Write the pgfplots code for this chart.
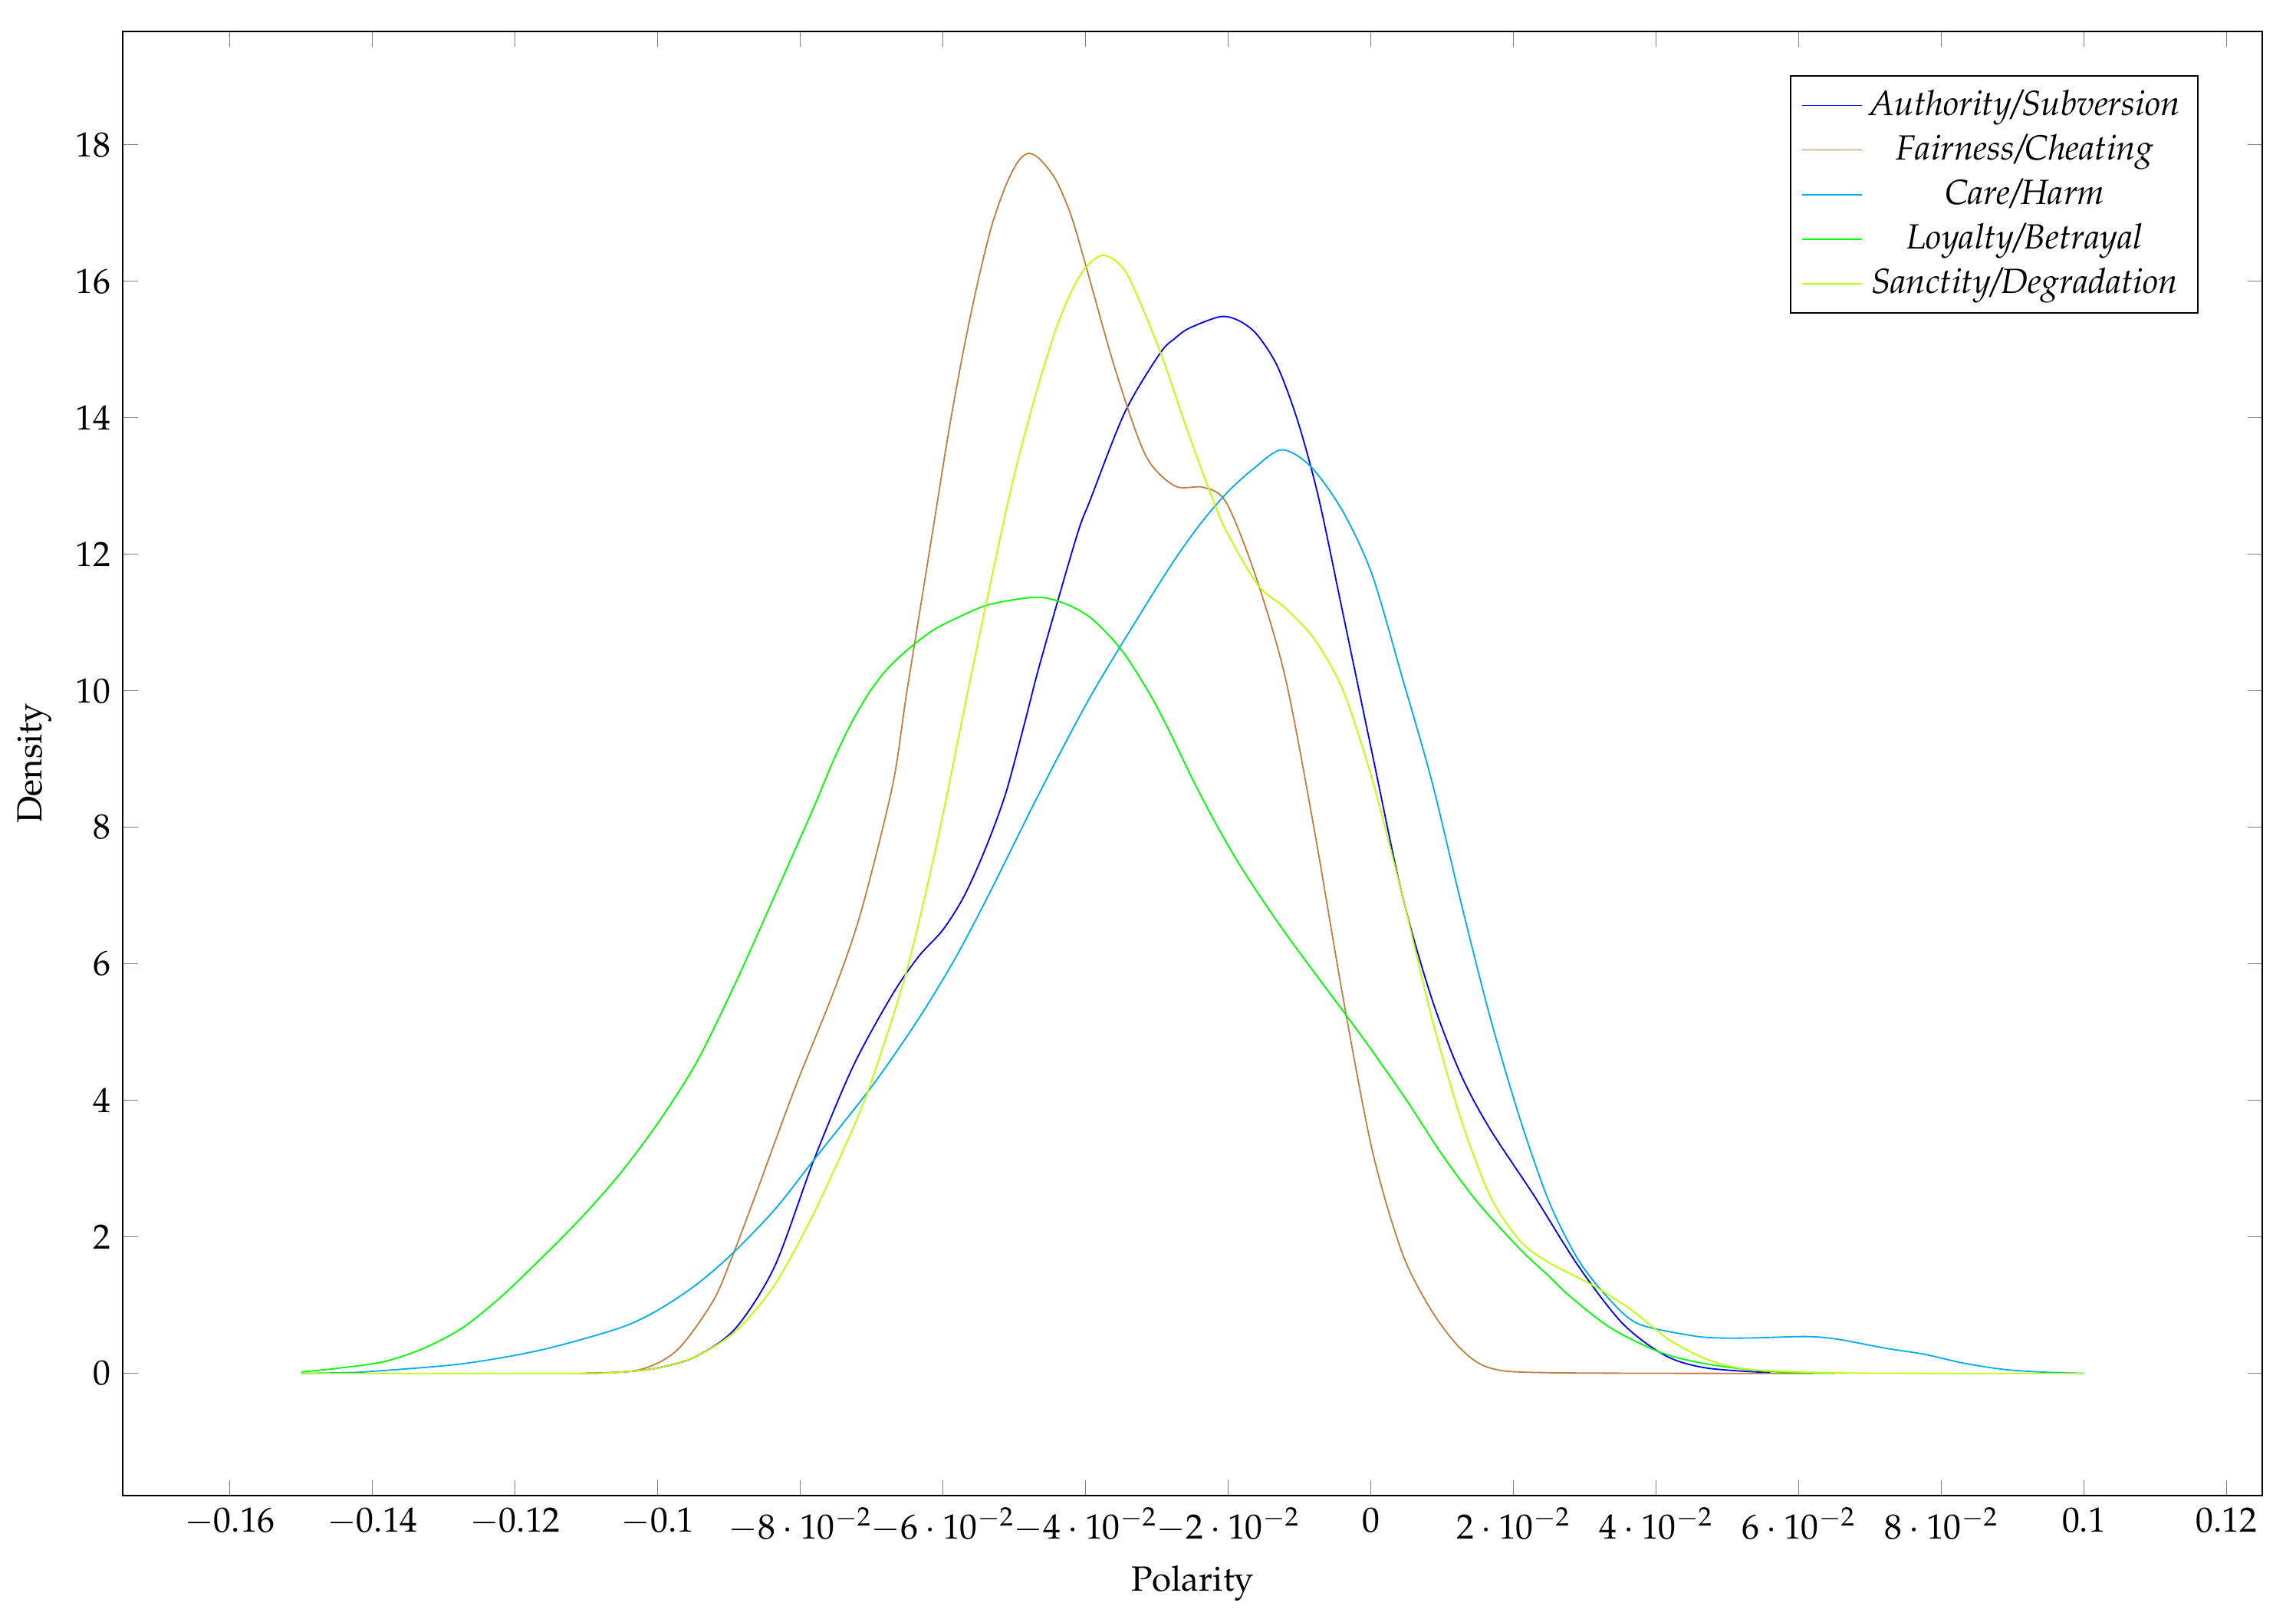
\documentclass[border=0pt]{standalone}
\usepackage[T1]{fontenc}
\usepackage{mathpazo}
\usepackage{pgfplots}
\pgfplotsset{compat=1.18}
\usetikzlibrary{calc}
\definecolor{careblue}{RGB}{0,174,239}
\begin{document}
\begin{tikzpicture}
\begin{axis}[
  name=ax,
  scale only axis,
  width=611pt, height=418pt,
  xlabel={Polarity}, ylabel={Density},
  xtick={-0.16,-0.14,-0.12,-0.1,-0.08,-0.06,-0.04,-0.02,0,0.02,0.04,0.06,0.08,0.1,0.12},
  ytick={0,2,4,6,8,10,12,14,16,18},
  legend cell align=center,
  legend style={at={(0.97,0.97)}, anchor=north east},
]
\addplot[blue, smooth] coordinates {
(-0.110,0.00) (-0.105,0.02) (-0.100,0.08) (-0.0946,0.25) (-0.0891,0.66)
(-0.0836,1.57) (-0.0781,3.13) (-0.0726,4.50) (-0.0671,5.55) (-0.0634,6.11)
(-0.0600,6.5) (-0.057,7.0) (-0.054,7.7) (-0.0512,8.5) (-0.0485,9.55) (-0.0464,10.4)
(-0.0413,12.25) (-0.0393,12.81) (-0.0345,14.08) (-0.0296,14.94) (-0.0275,15.16) (-0.0255,15.31)
(-0.0211,15.48) (-0.0185,15.42) (-0.016,15.22) (-0.0131,14.75) (-0.0102,13.93) (-0.0073,12.81)
(-0.0039,11.12) (0.0002,9.07) (0.0044,7.0) (0.0085,5.5) (0.0126,4.38)
(0.0167,3.58) (0.0229,2.6) (0.0291,1.57) (0.0353,0.73) (0.0413,0.26)
(0.0470,0.08) (0.056,0.01)
};
\addlegendentry{\textit{Authority/Subversion}}
\addplot[brown, smooth] coordinates {
(-0.111,0.00) (-0.1027,0.05) (-0.0973,0.34) (-0.0923,1.05) (-0.0896,1.70)
(-0.0863,2.61) (-0.0808,4.17) (-0.0753,5.6) (-0.0715,6.76) (-0.0671,8.6)
(-0.0652,9.9) (-0.0632,11.2) (-0.0612,12.5) (-0.0592,13.8) (-0.0572,14.95)
(-0.0552,15.95) (-0.0532,16.8) (-0.0512,17.4) (-0.0495,17.75) (-0.0481,17.87)
(-0.0468,17.82) (-0.0455,17.68) (-0.044,17.45) (-0.042,16.95) (-0.0399,16.2) (-0.0358,14.69)
(-0.0316,13.45) (-0.0275,13.0) (-0.0235,12.98) (-0.0203,12.76) (-0.0162,11.69)
(-0.012,10.19) (-0.0079,7.94) (-0.0039,5.5) (0.0002,3.26) (0.0044,1.76)
(0.0085,0.92) (0.0126,0.36) (0.0167,0.08) (0.025,0.01) (0.062,0.00)
};
\addlegendentry{\textit{Fairness/Cheating}}
\addplot[careblue, smooth] coordinates {
(-0.150,0.00) (-0.144,0.01) (-0.140,0.03) (-0.1275,0.14) (-0.1165,0.34)
(-0.1055,0.66) (-0.1001,0.92) (-0.0946,1.30) (-0.0896,1.75) (-0.0836,2.40)
(-0.0781,3.13) (-0.0698,4.23) (-0.0634,5.2) (-0.0584,6.06) (-0.0536,7.01)
(-0.0464,8.52) (-0.0392,9.94) (-0.031,11.35) (-0.027,12.0) (-0.0235,12.5)
(-0.020,12.92) (-0.0165,13.25) (-0.0125,13.53) (-0.0084,13.28)
(-0.0039,12.62) (0.0002,11.69) (0.0044,10.19) (0.0085,8.69) (0.0126,6.91)
(0.0167,5.22) (0.0209,3.73) (0.025,2.51) (0.0291,1.66) (0.0333,1.10)
(0.0374,0.73) (0.0446,0.56) (0.0485,0.52) (0.0535,0.52) (0.0611,0.54)
(0.0655,0.50) (0.0721,0.37) (0.0776,0.28) (0.0831,0.15) (0.0886,0.06)
(0.094,0.02) (0.100,0.00)
};
\addlegendentry{\textit{Care/Harm}}
\addplot[green, smooth] coordinates {
(-0.150,0.02) (-0.1445,0.08) (-0.1385,0.17) (-0.133,0.36) (-0.1275,0.66)
(-0.122,1.12) (-0.1165,1.67) (-0.111,2.25) (-0.1055,2.90) (-0.1001,3.65)
(-0.0946,4.55) (-0.0891,5.72) (-0.0836,7.0) (-0.0781,8.3) (-0.0755,8.95)
(-0.073,9.5) (-0.0705,9.95) (-0.068,10.3) (-0.065,10.6) (-0.0615,10.88) (-0.0584,11.05) (-0.0536,11.26)
(-0.047,11.37) (-0.0430,11.28) (-0.0392,11.06) (-0.035,10.6) (-0.031,9.95) (-0.028,9.35)
(-0.025,8.7) (-0.022,8.1) (-0.019,7.55) (-0.0155,6.98) (-0.012,6.45) (-0.008,5.88)
(-0.004,5.32) (0.0,4.75)
(0.005,4.0) (0.010,3.2) (0.015,2.5) (0.0209,1.82) (0.025,1.42) (0.028,1.12)
(0.0337,0.66) (0.0408,0.30) (0.0475,0.13) (0.0557,0.03) (0.065,0.00)
};
\addlegendentry{\textit{Loyalty/Betrayal}}
\addplot[lime, smooth] coordinates {
(-0.150,0.00) (-0.130,0.00) (-0.110,0.00) (-0.105,0.02) (-0.100,0.08) (-0.0946,0.25)
(-0.0891,0.62) (-0.0836,1.3) (-0.0781,2.35) (-0.0726,3.6) (-0.0698,4.35)
(-0.0651,5.9) (-0.0608,7.80) (-0.056,10.26) (-0.0508,12.81) (-0.0481,13.93)
(-0.046,14.7) (-0.044,15.35) (-0.042,15.85) (-0.040,16.2) (-0.0377,16.38)
(-0.0355,16.27) (-0.0337,16.0) (-0.0296,14.98) (-0.0255,13.74)
(-0.0222,12.81) (-0.0203,12.34) (-0.0158,11.54) (-0.012,11.21) (-0.0079,10.75)
(-0.0039,10.0) (0.0002,8.69) (0.0044,7.0) (0.0085,5.22) (0.0126,3.73)
(0.0167,2.6) (0.0209,1.94) (0.025,1.62) (0.0311,1.29) (0.0365,0.93)
(0.042,0.48) (0.0475,0.19) (0.053,0.06) (0.064,0.01) (0.080,0.00) (0.100,0.00)
};
\addlegendentry{\textit{Sanctity/Degradation}}
\end{axis}
\path ($(ax.north east)+(9.6pt,9pt)$);
\path ($(ax.outer south west)+(-1.6pt,-0.9pt)$);
\end{tikzpicture}
\end{document}
